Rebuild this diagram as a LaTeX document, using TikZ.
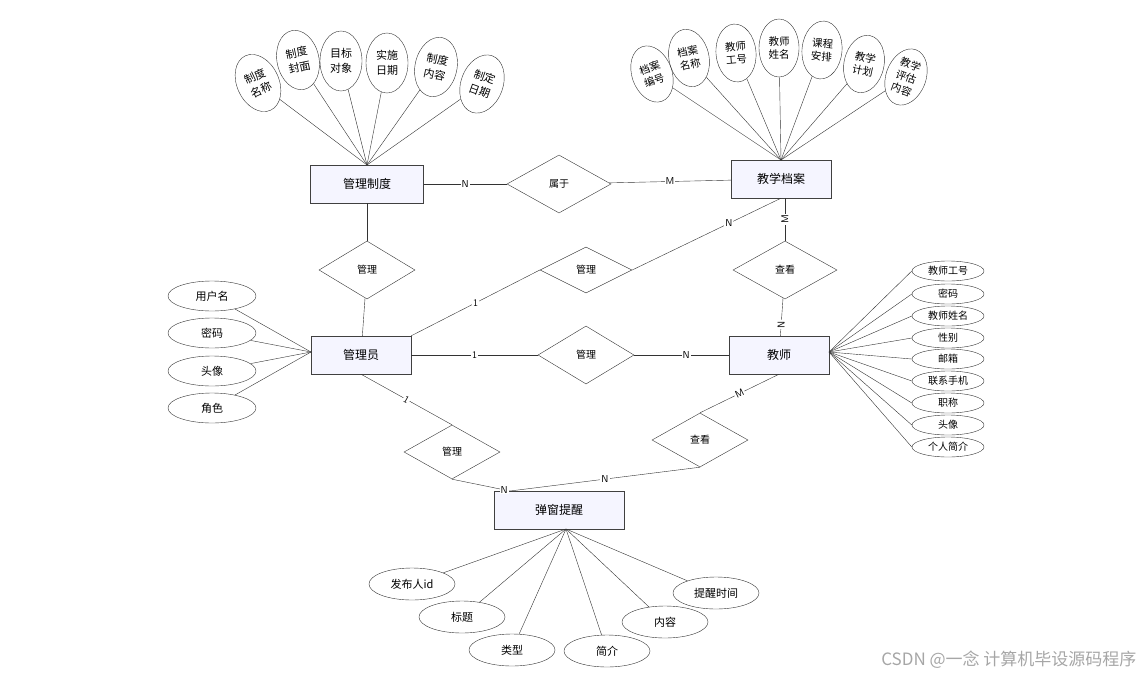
\documentclass[tikz,border=0pt]{standalone}
\usepackage{fontspec}
\setmainfont{Noto Sans CJK SC}
\usetikzlibrary{shapes.geometric}
\begin{document}
\begin{tikzpicture}[x=1pt,y=-1pt,
 ent/.style={draw=black!75,fill=blue!4,minimum width=100pt,minimum height=38pt,font=\fontsize{12}{14}\selectfont},
 rel/.style={diamond,draw=black!80,aspect=1.7,minimum width=96pt,minimum height=58pt,inner sep=0pt,font=\fontsize{10}{12}\selectfont},
 att/.style={ellipse,draw=black!80,minimum width=88pt,minimum height=30pt,inner sep=0pt,font=\fontsize{11}{13}\selectfont},
 tat/.style={ellipse,draw=black!80,minimum width=72pt,minimum height=20pt,inner sep=0pt,font=\fontsize{10}{11}\selectfont},
 vat/.style={ellipse,draw=black!80,minimum width=42pt,minimum height=60pt,inner sep=0pt,align=center,font=\fontsize{11}{15}\selectfont},
 ln/.style={draw=black!80},
 lab/.style={fill=white,inner sep=1pt,font=\fontsize{10}{11}\selectfont\sffamily}]
\useasboundingbox (0,0) rectangle (1142,680);
% entities
\node[ent,minimum width=113pt] (zd) at (367,184) {管理制度};
\node[ent] (da) at (781,179) {教学档案};
\node[ent] (gly) at (361,355) {管理员};
\node[ent] (js) at (779,355) {教师};
\node[ent,minimum width=130pt] (tx) at (559,510) {弹窗提醒};
% relations
\node[rel,minimum width=104pt] (sy) at (559,184) {属于};
\node[rel] (g1) at (367,270) {管理};
\node[rel,minimum width=92pt,minimum height=46pt] (g2) at (586,270) {管理};
\node[rel,minimum width=104pt] (ck1) at (785,270) {查看};
\node[rel] (g3) at (586,355) {管理};
\node[rel,minimum height=54pt] (g4) at (452,452) {管理};
\node[rel,minimum height=54pt] (ck2) at (700,440) {查看};
\coordinate (txl) at (510,491);
% connectors
\draw[ln] (zd) -- node[lab]{N} (sy);
\draw[ln] (sy) -- node[lab]{M} (da);
\draw[ln] (zd) -- (g1); \draw[ln] (g1) -- (gly);
\draw[ln] (gly.north east) -- node[lab]{1} (g2.west);
\draw[ln] (g2.east) -- node[lab,pos=0.65]{N} (da.south);
\draw[ln] (da.south) ++(4,0) coordinate (dab) (dab) -- node[lab,rotate=90]{M} (ck1.north);
\draw[ln] (ck1) -- node[lab,rotate=90,pos=0.7]{N} (js);
\draw[ln] (gly) -- node[lab,pos=0.5]{1} (g3);
\draw[ln] (g3) -- node[lab,pos=0.55]{N} (js);
\draw[ln] (gly.south) -- node[lab,sloped]{1} (g4.north);
\draw[ln] (g4.south) -- node[lab,pos=0.9]{N} (txl);
\draw[ln] (js.south) -- node[lab,sloped]{M} (ck2.north);
\draw[ln] (ck2.south) -- node[lab,pos=0.5]{N} (txl);
% 管理员 attributes
\coordinate (gp) at (311,352);
\foreach \n/\t/\y in {a1/用户名/296,a2/密码/333,a3/头像/371,a4/角色/408}{
 \node[att] (\n) at (212,\y) {\t}; \draw[ln] (\n) -- (gp);}
% 教师 attributes
\coordinate (jp) at (829,352);
\foreach \n/\t/\y in {b1/教师工号/271,b2/密码/294,b3/教师姓名/316,b4/性别/338,b5/邮箱/359,b6/联系手机/381,b7/职称/403,b8/头像/425,b9/个人简介/447}{
 \node[tat] (\n) at (948,\y) {\t}; \draw[ln] (\n.west) -- (jp);}
% 管理制度 attributes
\coordinate (zp) at (367,165);
\foreach \n/\t/\x/\y/\r in {c1/制度\\名称/258/83/25,c2/制度\\封面/298/60/12,c3/目标\\对象/341/61/0,c4/实施\\日期/387/63/0,c5/制度\\内容/436/67/-12,c6/制定\\日期/482/84/-20}{
 \node[vat,rotate=\r] (\n) at (\x,\y) {\t}; \draw[ln] (\n) -- (zp);}
% 教学档案 attributes
\coordinate (dp) at (781,160);
\foreach \n/\t/\x/\y/\r in {d1/档案\\编号/652/74/20,d2/档案\\名称/689/58/12,d3/教师\\工号/736/53/5,d4/教师\\姓名/779/48/0,d5/课程\\安排/822/50/-5,d6/教学\\计划/864/64/-12,d7/教学\\评估\\内容/906/77/-20}{
 \node[vat,minimum width=40pt,minimum height=58pt,font=\fontsize{10.5}{13.5}\selectfont,rotate=\r] (\n) at (\x,\y) {\t}; \draw[ln] (\n) -- (dp);}
% 弹窗提醒 attributes
\coordinate (tp) at (566,529);
\foreach \n/\t/\x/\y in {e1/发布人id/412/584,e2/标题/462/617,e3/类型/512/650,e4/简介/607/651,e5/内容/665/622,e6/提醒时间/716/593}{
 \node[att,minimum width=86pt,minimum height=32pt] (\n) at (\x,\y) {\t}; \draw[ln] (\n) -- (tp);}
\node[text=black!35,font=\fontsize{17}{19}\selectfont,anchor=east] (wm) at (1140,660) {CSDN @一念 计算机毕设源码程序};
\end{tikzpicture}
\end{document}
